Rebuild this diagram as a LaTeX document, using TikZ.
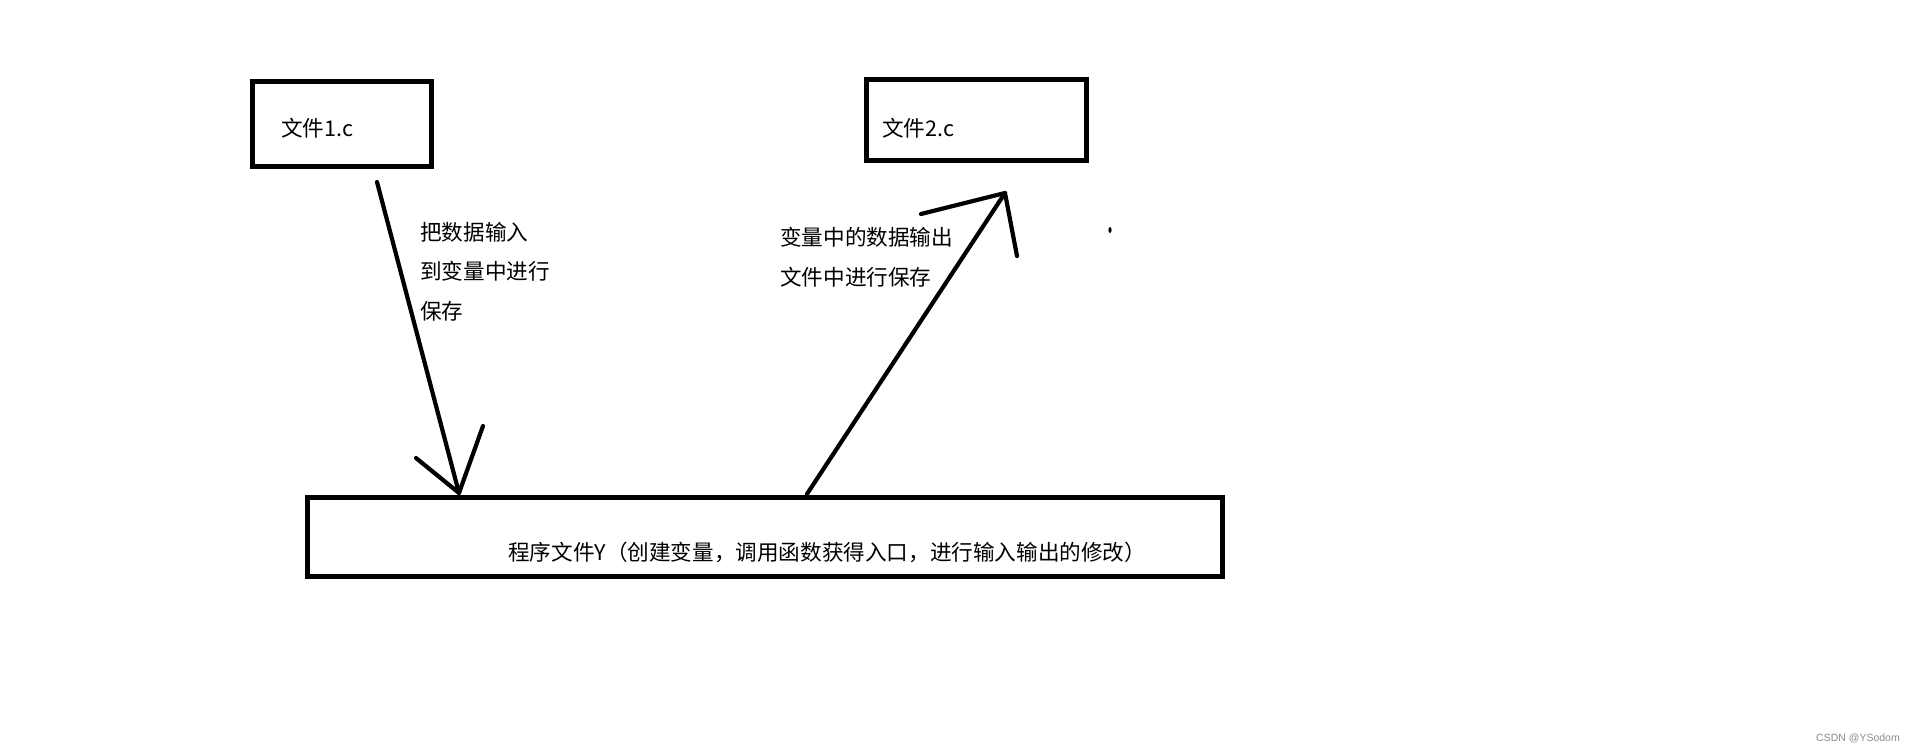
\documentclass[tikz,border=0pt]{standalone}
\usepackage{fontspec}
\newfontfamily\cjk{Noto Sans CJK SC}
\newfontfamily\wmfont{Liberation Sans}
\begin{document}
\begin{tikzpicture}[x=1pt,y=-1pt,
  filebox/.style={draw,line width=5pt,inner sep=0pt,minimum width=#1},
  lbl/.style={inner sep=0pt,anchor=base west,font=\cjk\fontsize{21.6}{26}\selectfont},
  stroke/.style={line width=4.2pt,line cap=round,line join=round}]
\useasboundingbox[fill=white] (0,0) rectangle (1914,752);
% boxes
\node[filebox=179pt,minimum height=85pt] (f1) at (342,124) {};
\node[filebox=220pt,minimum height=81pt] (f2) at (976.5,120) {};
\node[filebox=915pt,minimum height=79pt] (prog) at (765,537) {};
% texts
\node[lbl] (t1) at (281,136) {文件1.c};
\node[lbl] (t2) at (882,136) {文件2.c};
\node[lbl] (t3) at (508,560) {程序文件Y（创建变量，调用函数获得入口，进行输入输出的修改）};
\node[lbl] (l1a) at (420,240) {把数据输入};
\node[lbl] (l1b) at (420,279.5) {到变量中进行};
\node[lbl] (l1c) at (420,319) {保存};
\node[lbl] (l2a) at (780,245) {变量中的数据输出};
\node[lbl] (l2b) at (780,285) {文件中进行保存};
% arrow 1 (hand drawn)
\coordinate (a1s) at (377,182);
\coordinate (a1t) at (459,493);
\coordinate (a1l) at (416,458);
\coordinate (a1r) at (483,426);
\draw[stroke] (a1s) -- (a1t);
\draw[stroke] (a1l) -- (a1t) -- (a1r);
% arrow 2 (hand drawn)
\coordinate (a2s) at (807,494);
\coordinate (a2t) at (1005,193);
\coordinate (a2l) at (921,214);
\coordinate (a2r) at (1017,256);
\draw[stroke] (a2s) -- (a2t);
\draw[stroke] (a2l) -- (a2t) -- (a2r);
% stray dot
\fill (1110,230) ellipse (1.6pt and 3pt);
% watermark
\node[inner sep=0pt,anchor=base east,text=black!45,font=\wmfont\fontsize{10.5}{12}\selectfont] (wm) at (1900,741) {CSDN @YSodom};
\end{tikzpicture}
\end{document}
